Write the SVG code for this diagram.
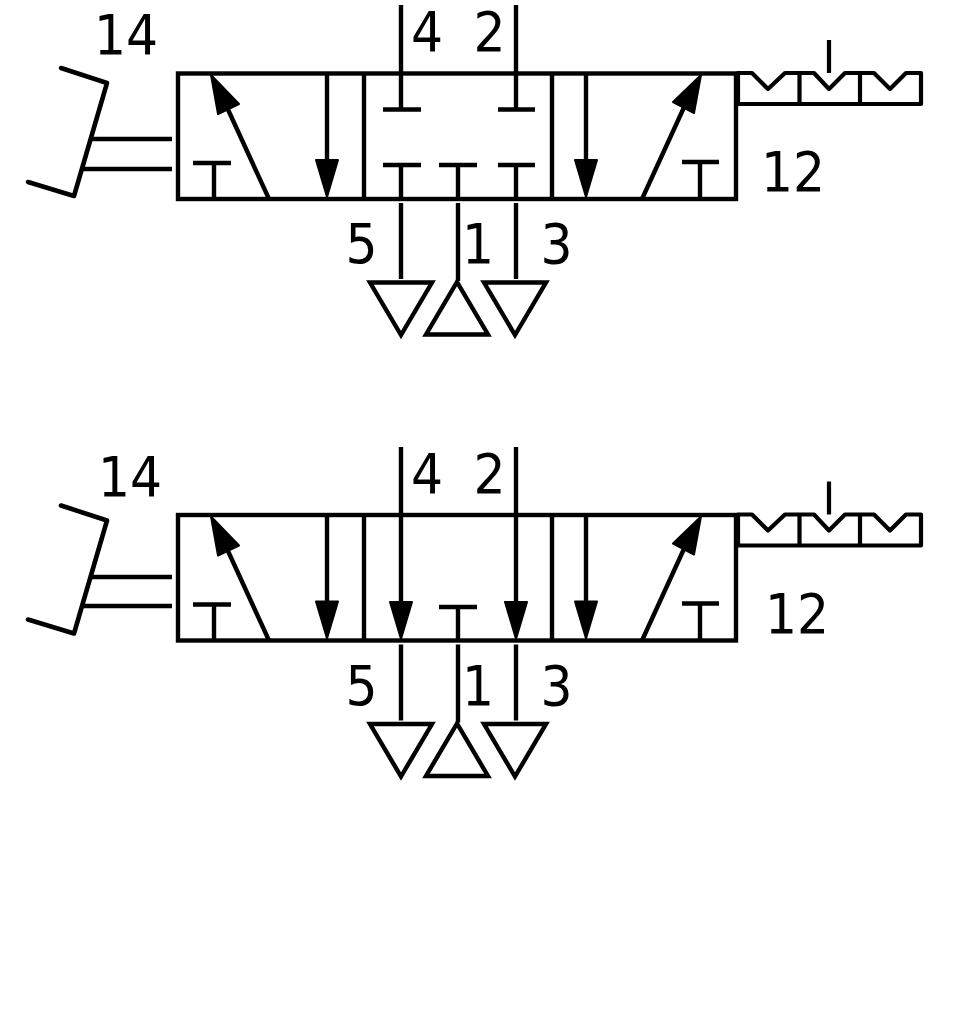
<svg xmlns="http://www.w3.org/2000/svg" width="953" height="1016" viewBox="0 0 953 1016">
<style>
.l{fill:none;stroke:#000;stroke-width:4.4;stroke-linecap:butt;stroke-linejoin:miter}
.t{fill:none;stroke:#000;stroke-width:4.2;stroke-linejoin:round}
.r{fill:none;stroke:#000;stroke-width:4.6;stroke-linecap:round;stroke-linejoin:round}
.h{fill:#000;stroke:#000;stroke-width:2;stroke-linejoin:round}
text{font-family:"DejaVu Sans Condensed","DejaVu Sans",sans-serif;font-stretch:condensed;font-size:56px;fill:#000}
</style>
<defs>
<g id="body">
<rect class="l" x="178" y="73.500" width="558" height="125.500"/>
<path class="l" d="M364 73V199M552 73V199"/>
<path class="l" d="M269 199L225 103"/>
<polygon class="h" points="211,75 239,104 218,114"/>
<path class="l" d="M327 74V165"/>
<polygon class="h" points="327,197 316,160 338,160"/>
<path class="l" d="M586 74V165"/>
<polygon class="h" points="586,197 575,160 597,160"/>
<path class="l" d="M642 199L686 103"/>
<polygon class="h" points="701,75 694,113 673,102"/>
<path class="l" d="M193 163H231M214 163V198M682 162H719M700 162V198"/>
<path class="t" d="M738 73H752L768 89L785 73H814L829 89L845 73H874L890 89L906 73H921V104H738ZM799.500 73V104M860 73V104M829 40V73"/>
<path class="l" d="M737 72V105"/>
<path class="l" d="M401 203V279M458 203V281M516 203V279"/>
<polygon class="l" points="370,282.500 432,282.500 401,335"/>
<polygon class="l" points="426,334.500 488,334.500 457,282"/>
<polygon class="l" points="484,282.500 546,282.500 515,335"/>
</g>
<g id="lever-a"><path class="r" d="M61 68L107 83L74 196L28 182"/></g>
</defs>
<g id="connectors">
<path class="l" d="M401 5V72M516 5V72"/>
<path class="l" d="M401 447V514M516 447V514"/>
</g>
<g id="valve-top">
<use href="#body"/>
<path class="l" d="M401 74V109M383 109.500H421M516 74V109M498 109.500H535M401 165V198M383 165H421M458 165V198M439 165H477M516 165V198M498 165H535"/>
<use href="#lever-a"/>
<path class="l" d="M92 139H172M83 169H172"/>
<text x="94" y="53.500">14</text><text x="761" y="190.500">12</text>
<text x="411" y="50.500">4</text><text x="473.500" y="50.500">2</text>
<text x="345.500" y="262.500">5</text><text x="462" y="262.500">1</text><text x="540.500" y="262.500">3</text>
</g>
<g id="valve-bottom">
<use href="#body" transform="translate(0,441.500)"/>
<path class="l" d="M401 516V605M516 516V605M458 607V639M439 607H477"/>
<polygon class="h" points="401,639 390,602 412,602"/>
<polygon class="h" points="516,639 505,602 527,602"/>
<use href="#lever-a" transform="translate(0,437.500)"/>
<path class="l" d="M92 577H172M83 606H172"/>
<text x="98" y="495.500">14</text><text x="765" y="632.500">12</text>
<text x="411" y="492.500">4</text><text x="473.500" y="492.500">2</text>
<text x="345.500" y="704.500">5</text><text x="462" y="704.500">1</text><text x="540.500" y="704.500">3</text>
</g>
</svg>
